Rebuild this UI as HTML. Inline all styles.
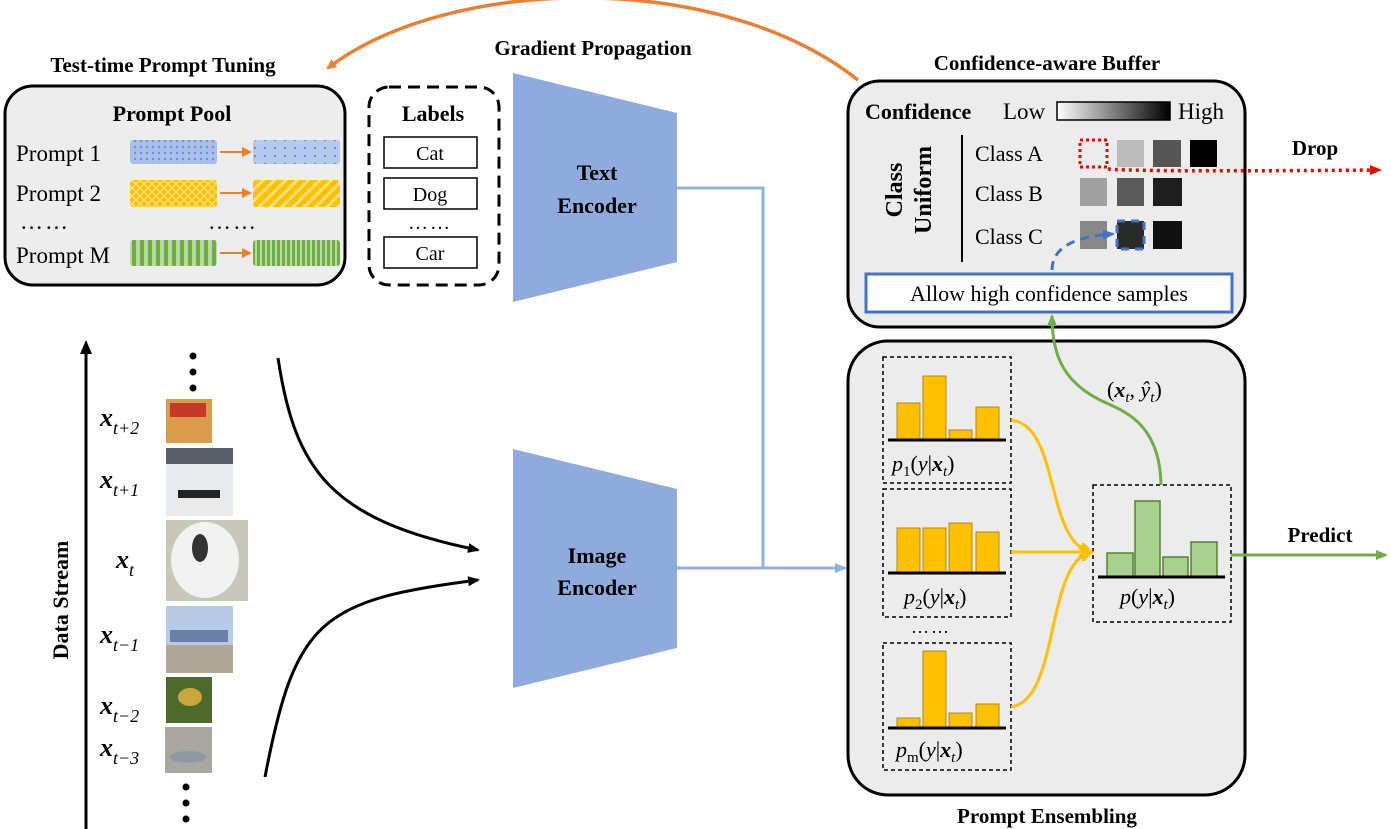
<!DOCTYPE html>
<html><head><meta charset="utf-8"><style>
html,body{margin:0;padding:0;background:#fff;}
svg{display:block;font-family:"Liberation Serif",serif;}
.b{font-weight:bold;}
</style></head><body>
<svg width="1391" height="829" viewBox="0 0 1391 829" xmlns="http://www.w3.org/2000/svg">
<defs>
<pattern id="pd1" width="6" height="6" patternUnits="userSpaceOnUse"><rect width="6" height="6" fill="#a9c0ec"/><circle cx="3" cy="3" r="1.2" fill="#6f8fd6"/></pattern>
<pattern id="pd2" width="10" height="8" patternUnits="userSpaceOnUse"><rect width="10" height="8" fill="#b6c9ee"/><circle cx="5" cy="4" r="1.2" fill="#6f8fd6"/></pattern>
<pattern id="py1" width="8" height="8" patternUnits="userSpaceOnUse"><rect width="8" height="8" fill="#ffc000"/><path d="M0 0L8 8M8 0L0 8" stroke="#ffe07a" stroke-width="1.5"/></pattern>
<pattern id="py2" width="8" height="8" patternUnits="userSpaceOnUse" patternTransform="rotate(45)"><rect width="8" height="8" fill="#ffc000"/><rect width="3" height="8" fill="#ffe07a"/></pattern>
<pattern id="pg1" width="8" height="8" patternUnits="userSpaceOnUse"><rect width="8" height="8" fill="#70ad47"/><rect width="4" height="8" fill="#b7da9e"/></pattern>
<pattern id="pg2" width="5" height="8" patternUnits="userSpaceOnUse"><rect width="5" height="8" fill="#70ad47"/><rect width="2" height="8" fill="#b7da9e"/></pattern>
<linearGradient id="gr" x1="0" x2="1"><stop offset="0" stop-color="#fff"/><stop offset="1" stop-color="#000"/></linearGradient>
<marker id="ao" markerWidth="10" markerHeight="10" refX="8" refY="5" orient="auto" markerUnits="userSpaceOnUse"><path d="M0 0L10 5L0 10z" fill="#ed7d31"/></marker>
<marker id="ak" markerWidth="12" markerHeight="10" refX="10" refY="5" orient="auto" markerUnits="userSpaceOnUse"><path d="M0 0L12 5L0 10z" fill="#000"/></marker>
<marker id="ab" markerWidth="12" markerHeight="10" refX="10" refY="5" orient="auto" markerUnits="userSpaceOnUse"><path d="M0 0L12 5L0 10z" fill="#8fb0e0"/></marker>
<marker id="ay" markerWidth="14" markerHeight="14" refX="10" refY="7" orient="auto" markerUnits="userSpaceOnUse"><path d="M0 0L11 7L0 14" fill="none" stroke="#ffc000" stroke-width="3"/></marker>
<marker id="ag" markerWidth="12" markerHeight="10" refX="10" refY="5" orient="auto" markerUnits="userSpaceOnUse"><path d="M0 0L12 5L0 10z" fill="#70ad47"/></marker>
<marker id="ar" markerWidth="12" markerHeight="10" refX="10" refY="5" orient="auto" markerUnits="userSpaceOnUse"><path d="M0 0L12 5L0 10z" fill="#e00"/></marker>
<marker id="abl" markerWidth="12" markerHeight="10" refX="10" refY="5" orient="auto" markerUnits="userSpaceOnUse"><path d="M0 0L12 5L0 10z" fill="#4472c4"/></marker>
</defs>

<path d="M858 80 C 720 -30, 450 -25, 328 68" fill="none" stroke="#ed7d31" stroke-width="3.5" marker-end="url(#ao)"/>
<text x="593" y="55" class="b" font-size="21" text-anchor="middle">Gradient Propagation</text>
<text x="163" y="72" class="b" font-size="21" text-anchor="middle">Test-time Prompt Tuning</text>
<text x="1047" y="70" class="b" font-size="21" text-anchor="middle">Confidence-aware Buffer</text>

<rect x="5" y="86" width="340" height="199" rx="28" fill="#ededed" stroke="#000" stroke-width="3"/>
<text x="172" y="121" class="b" font-size="22" text-anchor="middle">Prompt Pool</text>
<g font-size="23">
<text x="16" y="161">Prompt 1</text>
<text x="16" y="201">Prompt 2</text>
<text x="20" y="229" letter-spacing="2">……</text>
<text x="208" y="229" letter-spacing="2">……</text>
<text x="16" y="263">Prompt M</text>
</g>
<rect x="130" y="140" width="87" height="24" rx="3" fill="url(#pd1)"/>
<rect x="253" y="140" width="87" height="24" rx="3" fill="url(#pd2)"/>
<rect x="130" y="180" width="87" height="27" rx="3" fill="url(#py1)"/>
<rect x="253" y="180" width="87" height="27" rx="3" fill="url(#py2)"/>
<rect x="130" y="240" width="87" height="26" rx="3" fill="url(#pg1)"/>
<rect x="253" y="240" width="87" height="26" rx="3" fill="url(#pg2)"/>
<line x1="220" y1="152" x2="250" y2="152" stroke="#ed7d31" stroke-width="2" marker-end="url(#ao)"/>
<line x1="220" y1="193" x2="250" y2="193" stroke="#ed7d31" stroke-width="2" marker-end="url(#ao)"/>
<line x1="220" y1="253" x2="250" y2="253" stroke="#ed7d31" stroke-width="2" marker-end="url(#ao)"/>

<rect x="369" y="87" width="130" height="198" rx="20" fill="none" stroke="#000" stroke-width="3" stroke-dasharray="12 7"/>
<text x="433" y="121" class="b" font-size="22" text-anchor="middle">Labels</text>
<g font-size="20" text-anchor="middle">
<rect x="384" y="137" width="93" height="31" fill="#fff" stroke="#000" stroke-width="1.5"/><text x="430" y="160">Cat</text>
<rect x="384" y="178" width="93" height="31" fill="#fff" stroke="#000" stroke-width="1.5"/><text x="430" y="201">Dog</text>
<text x="430" y="229" letter-spacing="2">……</text>
<rect x="384" y="237" width="93" height="31" fill="#fff" stroke="#000" stroke-width="1.5"/><text x="430" y="260">Car</text>
</g>

<polygon points="513,73 677,113 677,262 513,302" fill="#8faadc"/>
<text x="597" y="180" class="b" font-size="22" text-anchor="middle">Text</text>
<text x="597" y="213" class="b" font-size="22" text-anchor="middle">Encoder</text>
<polygon points="513,449 677,489 677,648 513,688" fill="#8faadc"/>
<text x="597" y="563" class="b" font-size="22" text-anchor="middle">Image</text>
<text x="597" y="595" class="b" font-size="22" text-anchor="middle">Encoder</text>
<polyline points="677,188 763,188 763,568" fill="none" stroke="#8fb0e0" stroke-width="3"/>
<line x1="677" y1="568" x2="845" y2="568" stroke="#8fb0e0" stroke-width="3" marker-end="url(#ab)"/>

<path d="M278 358 C 295 470, 330 520, 478 550" fill="none" stroke="#000" stroke-width="3" marker-end="url(#ak)"/>
<path d="M265 777 C 295 620, 320 600, 478 580" fill="none" stroke="#000" stroke-width="3" marker-end="url(#ak)"/>

<line x1="86" y1="829" x2="86" y2="352" stroke="#000" stroke-width="3"/>
<path d="M80 354 L86 340 L92 354z" fill="#000"/>
<text transform="translate(68,600) rotate(-90)" class="b" font-size="22" text-anchor="middle">Data Stream</text>
<g fill="#000"><circle cx="193" cy="356" r="3.5"/><circle cx="193" cy="372" r="3.5"/><circle cx="193" cy="388" r="3.5"/>
<circle cx="186" cy="787" r="3.5"/><circle cx="186" cy="803" r="3.5"/><circle cx="186" cy="819" r="3.5"/></g>
<g font-size="26" font-style="italic" font-weight="bold">
<text x="100" y="426">x<tspan font-size="18" font-weight="normal" dy="8">t+2</tspan></text>
<text x="100" y="488">x<tspan font-size="18" font-weight="normal" dy="8">t+1</tspan></text>
<text x="116" y="568">x<tspan font-size="18" font-weight="normal" dy="8">t</tspan></text>
<text x="100" y="643">x<tspan font-size="18" font-weight="normal" dy="8">t−1</tspan></text>
<text x="100" y="714">x<tspan font-size="18" font-weight="normal" dy="8">t−2</tspan></text>
<text x="100" y="756">x<tspan font-size="18" font-weight="normal" dy="8">t−3</tspan></text>
</g>
<rect x="166" y="399" width="46" height="44" fill="#d89c4a"/><rect x="170" y="403" width="36" height="14" fill="#c8372a"/>
<rect x="166" y="448" width="67" height="68" fill="#e8eaec"/><rect x="166" y="448" width="67" height="16" fill="#5a6068"/><rect x="178" y="490" width="42" height="8" fill="#222"/>
<rect x="166" y="520" width="82" height="81" fill="#c8c8b8"/><ellipse cx="205" cy="560" rx="34" ry="38" fill="#f2f2f2"/><ellipse cx="200" cy="548" rx="8" ry="14" fill="#333"/>
<rect x="166" y="606" width="67" height="67" fill="#b8cbe6"/><rect x="166" y="645" width="67" height="28" fill="#b0a898"/><rect x="170" y="630" width="58" height="12" fill="#6c7fa6"/>
<rect x="166" y="677" width="46" height="46" fill="#4e6a2a"/><ellipse cx="190" cy="697" rx="12" ry="9" fill="#c9a63c"/>
<rect x="165" y="727" width="47" height="46" fill="#a8a8a0"/><ellipse cx="188" cy="757" rx="18" ry="6" fill="#8d9aa4"/>

<rect x="848" y="81" width="397" height="246" rx="32" fill="#ececec" stroke="#000" stroke-width="3"/>
<text x="865" y="119" class="b" font-size="22">Confidence</text>
<text x="1003" y="119" font-size="23">Low</text>
<rect x="1057" y="102" width="113" height="18" fill="url(#gr)" stroke="#000" stroke-width="1.5"/>
<text x="1178" y="119" font-size="23">High</text>
<text transform="translate(902,190) rotate(-90)" class="b" font-size="24" text-anchor="middle">Class</text>
<text transform="translate(931,190) rotate(-90)" class="b" font-size="24" text-anchor="middle">Uniform</text>
<line x1="962" y1="135" x2="962" y2="262" stroke="#000" stroke-width="2"/>
<g font-size="22">
<text x="975" y="161">Class A</text>
<text x="975" y="201">Class B</text>
<text x="975" y="244">Class C</text>
</g>
<rect x="1080" y="140" width="27" height="27" fill="none" stroke="#e00" stroke-width="3" stroke-dasharray="3 3"/>
<rect x="1117" y="140" width="27" height="27" fill="#bbb"/>
<rect x="1153" y="140" width="28" height="27" fill="#555"/>
<rect x="1190" y="140" width="27" height="27" fill="#000"/>
<rect x="1080" y="178" width="27" height="28" fill="#a0a0a0"/>
<rect x="1117" y="178" width="27" height="28" fill="#5a5a5a"/>
<rect x="1153" y="178" width="29" height="28" fill="#1e1e1e"/>
<rect x="1080" y="221" width="27" height="28" fill="#888"/>
<rect x="1117" y="221" width="27" height="28" fill="#2a2a2a" stroke="#4472c4" stroke-width="3" stroke-dasharray="8 6"/>
<rect x="1153" y="221" width="29" height="28" fill="#111"/>
<path d="M1108 169 Q1140 172 1380 170" fill="none" stroke="#e00" stroke-width="3.5" stroke-dasharray="3 4" marker-end="url(#ar)"/>
<text x="1315" y="155" class="b" font-size="21" text-anchor="middle">Drop</text>
<path d="M1052 270 C 1052 245, 1080 236, 1113 234" fill="none" stroke="#4472c4" stroke-width="3" stroke-dasharray="9 6" marker-end="url(#abl)"/>
<rect x="866" y="274" width="366" height="38" fill="#fff" stroke="#4472c4" stroke-width="3"/>
<text x="1049" y="301" font-size="22" text-anchor="middle">Allow high confidence samples</text>

<rect x="848" y="341" width="397" height="454" rx="40" fill="#ececec" stroke="#000" stroke-width="3"/>
<text x="1047" y="823" class="b" font-size="21" text-anchor="middle">Prompt Ensembling</text>
<g fill="none" stroke="#000" stroke-width="1.5" stroke-dasharray="4 3">
<rect x="883" y="357" width="128" height="126"/>
<rect x="883" y="489" width="128" height="128"/>
<rect x="883" y="643" width="128" height="127"/>
<rect x="1093" y="485" width="138" height="137"/>
</g>
<g fill="#ffc000" stroke="#b08a10" stroke-width="1">
<rect x="897" y="403" width="23" height="37"/><rect x="923" y="376" width="23" height="64"/><rect x="949" y="430" width="23" height="10"/><rect x="976" y="407" width="23" height="33"/>
<rect x="897" y="528" width="23" height="45"/><rect x="923" y="528" width="23" height="45"/><rect x="949" y="523" width="23" height="50"/><rect x="976" y="532" width="23" height="41"/>
<rect x="897" y="718" width="23" height="10"/><rect x="923" y="651" width="23" height="77"/><rect x="949" y="713" width="23" height="15"/><rect x="976" y="704" width="23" height="24"/>
</g>
<g fill="#a9d18e" stroke="#548235" stroke-width="1.5">
<rect x="1107" y="553" width="26" height="24"/><rect x="1135" y="501" width="25" height="76"/><rect x="1163" y="557" width="25" height="20"/><rect x="1191" y="542" width="26" height="35"/>
</g>
<g stroke="#000" stroke-width="3">
<line x1="888" y1="440" x2="1006" y2="440"/><line x1="888" y1="573" x2="1006" y2="573"/><line x1="888" y1="728" x2="1006" y2="728"/><line x1="1098" y1="577" x2="1225" y2="577"/>
</g>
<g font-size="22" font-style="italic">
<text x="892" y="471">p<tspan font-style="normal" font-size="15" dy="5">1</tspan><tspan dy="-5" font-style="normal">(</tspan>y<tspan font-style="normal">|</tspan><tspan font-weight="bold">x</tspan><tspan font-size="15" dy="5">t</tspan><tspan dy="-5" font-style="normal">)</tspan></text>
<text x="904" y="604">p<tspan font-style="normal" font-size="15" dy="5">2</tspan><tspan dy="-5" font-style="normal">(</tspan>y<tspan font-style="normal">|</tspan><tspan font-weight="bold">x</tspan><tspan font-size="15" dy="5">t</tspan><tspan dy="-5" font-style="normal">)</tspan></text>
<text x="896" y="757">p<tspan font-style="normal" font-size="15" dy="5">m</tspan><tspan dy="-5" font-style="normal">(</tspan>y<tspan font-style="normal">|</tspan><tspan font-weight="bold">x</tspan><tspan font-size="15" dy="5">t</tspan><tspan dy="-5" font-style="normal">)</tspan></text>
<text x="1120" y="604">p<tspan font-style="normal">(</tspan>y<tspan font-style="normal">|</tspan><tspan font-weight="bold">x</tspan><tspan font-size="15" dy="5">t</tspan><tspan dy="-5" font-style="normal">)</tspan></text>
<text x="1107" y="397"><tspan font-style="normal">(</tspan><tspan font-weight="bold">x</tspan><tspan font-size="15" dy="5">t</tspan><tspan dy="-5" font-style="normal">, </tspan>ŷ<tspan font-size="15" dy="5">t</tspan><tspan dy="-5" font-style="normal">)</tspan></text>
</g>
<text x="931" y="633" font-size="18" text-anchor="middle" letter-spacing="2">……</text>
<g fill="none" stroke="#ffc000" stroke-width="3">
<path d="M1011 420 C 1060 425, 1045 540, 1090 552" marker-end="url(#ay)"/>
<line x1="1011" y1="552" x2="1090" y2="552" marker-end="url(#ay)"/>
<path d="M1011 707 C 1060 700, 1045 565, 1090 552" marker-end="url(#ay)"/>
</g>
<path d="M1161 485 C 1160 420, 1120 410, 1100 400 C 1060 380, 1052 350, 1052 316" fill="none" stroke="#70ad47" stroke-width="3" marker-end="url(#ag)"/>
<line x1="1231" y1="555" x2="1386" y2="555" stroke="#70ad47" stroke-width="3" marker-end="url(#ag)"/>
<text x="1320" y="542" class="b" font-size="21" text-anchor="middle">Predict</text>
</svg>
</body></html>
